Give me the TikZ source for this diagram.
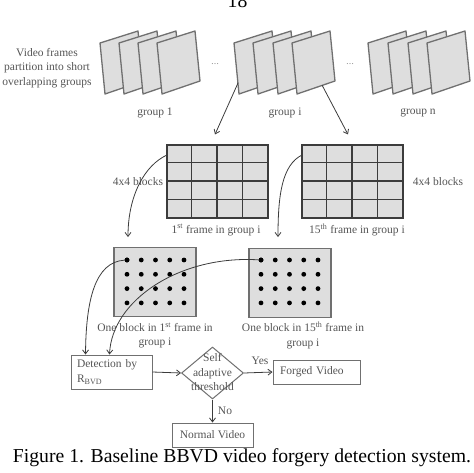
\documentclass[tikz,border=0pt]{standalone}
\usepackage{fontspec}
\setmainfont{Liberation Serif}
\usetikzlibrary{shapes.geometric,arrows.meta,calc}
\definecolor{fillg}{RGB}{222,222,222}
\definecolor{edgeg}{RGB}{112,112,112}
\definecolor{txtg}{RGB}{85,85,85}
\definecolor{lineg}{RGB}{60,60,60}
\tikzset{
  lbl/.style={text=txtg, font=\fontsize{11.5}{14.5}\selectfont, align=center, inner sep=0pt},
  frm/.style={fill=fillg, draw=edgeg, line width=1.3pt, line join=round},
  gridbox/.style={draw=lineg, fill=fillg, line width=1.1pt, minimum width=101pt, minimum height=73pt, inner sep=0pt},
  gridln/.style={draw=lineg, line width=1.1pt},
  dotbox/.style={draw=edgeg, fill=fillg, line width=1.2pt, minimum width=82pt, minimum height=69pt, inner sep=0pt},
  dotn/.style={circle, fill=black, inner sep=0pt, minimum size=4.8pt},
  conn/.style={draw=lineg, line width=0.8pt, -{Straight Barb[length=4pt,width=6pt]}},
  flowbox/.style={draw=edgeg, line width=1pt, inner sep=0pt, text=txtg, font=\fontsize{11.5}{14.5}\selectfont},
}
\newcommand\vframe[1]{\draw[frm] (#1,43) -- ++(38,-12) -- ++(5,50) -- ++(-38,13) -- cycle;}
\begin{document}
\begin{tikzpicture}[x=1pt,y=-1pt]
\useasboundingbox (0,0) rectangle (474,472);
% page number (cut)
\node[anchor=base, font=\fontsize{19.7}{22}\selectfont, inner sep=0pt] (pg) at (237.5,7) {18};
% frames
\foreach \x in {100,119,138,157} {\vframe{\x}}
\foreach \x in {234,253,273,292} {\vframe{\x}}
\foreach \x in {368,388,408,427} {\vframe{\x}}
\node[lbl] (dots1) at (215,64) {\fontsize{8}{8}\selectfont\dots};
\node[lbl] (dots2) at (350,64) {\fontsize{8}{8}\selectfont\dots};
\node[lbl] (vf) at (47,68) {Video frames\\partition into short\\overlapping groups};
\node[lbl] (gl1) at (155,113) {group 1};
\node[lbl] (gli) at (285,113) {group i};
\node[lbl] (gln) at (418,113) {group n};
\coordinate (gia) at (238,83);
\coordinate (gib) at (322,85);
% grids
\node[gridbox] (g1) at (217.5,181.5) {};
\node[gridbox] (g2) at (352.5,181.5) {};
\foreach \i in {1,2,3} {
  \draw[gridln] ($(g1.north west)+(\i*25.25,0)$) -- ($(g1.south west)+(\i*25.25,0)$);
  \draw[gridln] ($(g1.north west)+(0,\i*18.25)$) -- ($(g1.north east)+(0,\i*18.25)$);
  \draw[gridln] ($(g2.north west)+(\i*25.25,0)$) -- ($(g2.south west)+(\i*25.25,0)$);
  \draw[gridln] ($(g2.north west)+(0,\i*18.25)$) -- ($(g2.north east)+(0,\i*18.25)$);
}
\draw[conn] (gia) -- ($(g1.north)+(-2.5,-10)$);
\draw[conn] (gib) -- ($(g2.north)+(-4.5,-10)$);
\node[lbl] (bl1) at (138,182) {4x4 blocks};
\node[lbl] (bl2) at (438,182) {4x4 blocks};
\node[lbl] (f1) at (216,230) {1\textsuperscript{st} frame in group i};
\node[lbl] (f15) at (357,230) {15\textsuperscript{th} frame in group i};
% dot blocks
\node[dotbox] (b1) at (155,282) {};
\node[dotbox] (b2) at (290,283) {};
\foreach \c in {0,...,4} \foreach \r in {0,...,3} {
  \fill ($(127,260)+(\c*14.25,\r*14.3)$) circle (2.4);
  \fill ($(261,260)+(\c*14.25,\r*14.3)$) circle (2.4);
}
\node[dotn] (d1) at (127,260) {};
\node[dotn] (d2) at (261,260) {};
\coordinate (g1s) at (167,155);
\coordinate (g2s) at (302,155);
\coordinate (b1in) at (128,237);
\coordinate (b2in) at (278,237);
\draw[conn] (g1s) .. controls (145,165) and (128,195) .. (b1in);
\draw[conn] (g2s) .. controls (282,165) and (278,195) .. (b2in);
\node[lbl] (ob1) at (155,335.5) {One block in 1\textsuperscript{st} frame in\\group i};
\node[lbl] (ob2) at (303,335.5) {One block in 15\textsuperscript{th} frame in\\group i};
% flow
\node[flowbox, minimum width=81pt, minimum height=34pt, text width=69pt, align=left] (det) at (111.5,372) {Detection by\\R\textsubscript{BVD}};
\node[diamond, draw=edgeg, line width=1pt, minimum width=62pt, minimum height=52pt, aspect=1.19, inner sep=0pt] (dia) at (212.5,373) {};
\node[lbl] (diat) at (212.5,372) {Self\\adaptive\\threshold};
\node[flowbox, minimum width=87pt, minimum height=24pt, text width=73pt, align=left] (fv) at (316.5,372) {Forged Video};
\node[flowbox, minimum width=81pt, minimum height=24pt, align=center] (nv) at (212.5,435) {Normal Video};
\draw[conn] (d1) .. controls (95,262) and (86,300) .. ($(det.north west)+(15,0)$);
\draw[conn] (d2) .. controls (180,255) and (112,300) .. ($(det.north west)+(39,0)$);
\draw[conn] (det.east) -- (dia.west);
\draw[conn] (dia.east) -- (fv.west);
\draw[conn] (dia.south) -- (nv.north);
\node[lbl] (yes) at (260,361) {Yes};
\node[lbl] (no) at (225,411) {No};
% caption
\node[font=\fontsize{19.7}{22}\selectfont, inner sep=0pt] (cap) at (242,458) {Figure 1. Baseline BBVD video forgery detection system.};
\end{tikzpicture}
\end{document}
